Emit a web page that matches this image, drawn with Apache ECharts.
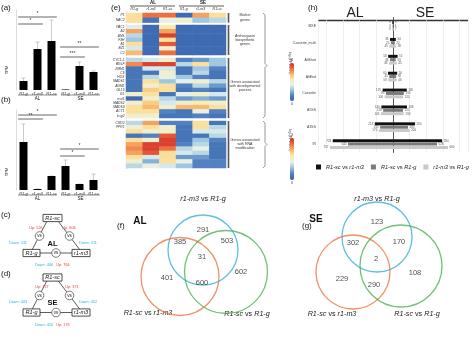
<!DOCTYPE html>
<html><head><meta charset="utf-8">
<script src="https://cdn.jsdelivr.net/npm/echarts@6/dist/echarts.min.js"></script>
<style>html,body{margin:0;padding:0;background:#fff}#c{width:474px;height:340px}</style>
</head><body><div id="c"></div>
<script>
// ---------- data ----------
const barCats = ['R1-g','r1-m3','R1-sc','R1-g','r1-m3','R1-sc'];
const tpmA = [9, 41, 49, 0.5, 24, 18];
const errA = [12, 48, 70, 0.5, 28, 19];
const sigA = [[0,2,73,'*'],[0,1,66,'*'],[3,5,43,'**'],[3,4,33,'***']];
const tpmB = [48, 1, 14, 24, 6, 10];
const errB = [66, 1, 14, 30, 6, 16];
const sigB = [[0,2,75,'*'],[0,1,71,'**'],[3,5,41,'*'],[3,4,34,'*']];

const heatCols = ['R1-g','r1-m3','R1-sc','R1-g ','r1-m3 ','R1-sc '];
const rowsMarker = ['P1','NAC2'];
const heatMarker = [
 [0.6,0.85,0.85,0.05,0.75,0.6],
 [0.6,0.1,0.45,0.5,0.3,0.35]];
const rowsAntho = ['PAC1','A2','ANS','F3H','A1','BZ1','C2'];
const heatAntho = [
 [0.42,0.05,0.55,0.05,0.05,0.05],
 [0.75,0.05,0.75,0.05,0.05,0.05],
 [0.35,0.05,0.95,0.05,0.05,0.05],
 [0.3,0.05,0.6,0.05,0.05,0.05],
 [0.6,0.05,0.9,0.05,0.05,0.05],
 [0.4,0.05,0.5,0.05,0.05,0.05],
 [0.7,0.05,0.85,0.05,0.05,0.05]];
const rowsDev = ['CYC1-1','BGLF','ZMM1','C6','HOX','MADS1','AGM1','GL15','G1','nsd1','MADS2','MADS3','ACT1','bsg2'];
const heatDev = [
 [0.35,0.4,0.5,0.15,0.2,0.3],
 [0.8,0.95,0.95,0.35,0.6,0.3],
 [0.1,0.4,0.4,0.1,0.3,0.15],
 [0.1,0.1,0.5,0.1,0.35,0.1],
 [0.1,0.35,0.45,0.3,0.15,0.1],
 [0.1,0.6,0.3,0.45,0.5,0.35],
 [0.1,0.5,0.6,0.15,0.35,0.2],
 [0.1,0.65,0.6,0.1,0.15,0.1],
 [0.5,0.6,0.1,0.45,0.5,0.4],
 [0.05,0.5,0.35,0.2,0.25,0.2],
 [0.5,0.65,0.4,0.5,0.55,0.5],
 [0.6,0.7,0.5,0.7,0.7,0.6],
 [0.6,0.6,0.15,0.1,0.45,0.15],
 [0.5,0.5,0.1,0.1,0.15,0.1]];
const rowsRNA = ['CRD2','PPR1','','','','','','','','',''];
const heatRNA = [
 [0.35,0.75,0.15,0.15,0.6,0.1],
 [0.5,0.6,0.5,0.1,0.6,0.35],
 [0.6,0.5,0.5,0.1,0.4,0.4],
 [0.1,0.15,0.9,0.1,0.1,0.35],
 [0.6,0.5,0.95,0.1,0.3,0.15],
 [0.75,0.95,0.95,0.15,0.35,0.1],
 [0.8,0.95,0.85,0.35,0.45,0.1],
 [0.75,0.9,0.6,0.4,0.35,0.1],
 [0.6,0.4,0.6,0.2,0.2,0.1],
 [0.5,0.25,0.6,0.45,0.15,0.15],
 [0.35,0.45,0.4,0.3,0.15,0.15]];

const asCats = ['MXE','Cassette_multi','AltStart','AltEnd','Cassette','A5SS','A3SS','IR'];
const cmpNames = ['R1-sc vs r1-m3','R1-sc vs R1-g','r1-m3 vs R1-g'];
const asAL = [
 [8,36,58,60,125,140,218,723],
 [5,25,36,45,85,118,155,540],
 [9,45,48,58,100,145,170,757]];
const asSE = [
 [6,34,55,50,165,168,265,590],
 [4,22,33,38,130,120,180,528],
 [7,38,45,46,120,130,200,660]];

const vennAL = [291,385,503,31,401,600,602];
const vennSE = [123,302,170,2,229,290,108];
const vennSets = ['r1-m3 vs R1-g','R1-sc vs r1-m3','R1-sc vs R1-g'];

// ---------- layout ----------
const FONT = 'Liberation Sans';
const chart = echarts.init(document.getElementById('c'));
function ital(s){ return s.replace(/(R1-sc|r1-m3|R1-g)/g, '{i|$1}'); }

function errRender(errs){
  return function(params, api){
    const x = api.value(0), lo = api.value(1), hi = errs[params.dataIndex];
    const p1 = api.coord([x, lo]), p2 = api.coord([x, hi]);
    return {type:'group', children:[
      {type:'line', shape:{x1:p1[0],y1:p1[1],x2:p2[0],y2:p2[1]}, style:{stroke:'#aaa',lineWidth:0.6}},
      {type:'line', shape:{x1:p2[0]-2,y1:p2[1],x2:p2[0]+2,y2:p2[1]}, style:{stroke:'#aaa',lineWidth:0.6}}]};
  };
}
function sigRender(sigs){
  return function(params, api){
    const s = sigs[params.dataIndex];
    const half = api.size([1,0])[0]*0.38;
    const a = api.coord([s[0], s[2]]), b = api.coord([s[1], s[2]]);
    return {type:'group', children:[
      {type:'line', shape:{x1:a[0]-half,y1:a[1],x2:b[0]+half,y2:b[1]}, style:{stroke:'#555',lineWidth:0.9}},
      {type:'text', style:{text:s[3], x:(a[0]+b[0])/2, y:a[1]-0.5, align:'center', verticalAlign:'bottom', fontSize:5, fill:'#333', fontFamily:FONT}}]};
  };
}

const gridBase = {outerBoundsMode:'none', containLabel:false};
const grids = [
  {left:16.5, top:10, width:84, height:80},
  {left:16.5, top:110, width:84, height:80},
  {left:126, top:13, width:100, height:9.6},
  {left:126, top:25, width:100, height:30},
  {left:126, top:58, width:100, height:60},
  {left:126, top:121, width:100, height:47},
  {left:318, top:17.5, width:75, height:135},
  {left:393, top:17.5, width:75, height:135},
  {left:120, top:190, width:150, height:140},
  {left:300, top:190, width:150, height:140}
].map(o=>Object.assign({}, gridBase, o));
const catX = (g)=>({gridIndex:g, type:'category', data:barCats, axisLine:{show:false}, axisTick:{show:false},
  axisLabel:{fontSize:4, fontStyle:'italic', color:'#333', margin:2, interval:0, fontFamily:FONT}});
const valY = (g)=>({gridIndex:g, type:'value', min:0, max:80, splitLine:{show:false}, axisLabel:{show:false},
  axisLine:{show:true, lineStyle:{color:'#bbb', width:0.5}}, axisTick:{show:false}});
const heatX = (g, top)=>({gridIndex:g, type:'category', data:heatCols, position:'top', show:top,
  axisLine:{show:false}, axisTick:{show:false},
  axisLabel:{fontSize:3.5, fontStyle:'italic', margin:1.5, interval:0, color:'#333', fontFamily:FONT}});
const heatY = (g, rows)=>({gridIndex:g, type:'category', data:rows, inverse:true,
  axisLine:{show:true, lineStyle:{color:'#666', width:0.8}}, axisTick:{show:false},
  axisLabel:{fontSize:3.3, fontStyle:'italic', margin:1.5, interval:0, color:'#333', fontFamily:FONT}});
const vennX = (g)=>({gridIndex:g, type:'value', min:0, max:150, show:false});
const vennY = (g)=>({gridIndex:g, type:'value', min:0, max:140, inverse:true, show:false});

const xAxis = [catX(0), catX(1), heatX(2,true), heatX(3,false), heatX(4,false), heatX(5,false),
  {gridIndex:6, type:'value', min:0, max:900, interval:200, inverse:true, axisLabel:{show:false}, axisLine:{show:false}, axisTick:{show:false}, splitLine:{lineStyle:{color:'#e3e3e3', width:0.6}}},
  {gridIndex:7, type:'value', min:0, max:900, interval:200, axisLabel:{show:false}, axisLine:{show:false}, axisTick:{show:false}, splitLine:{lineStyle:{color:'#e3e3e3', width:0.6}}},
  vennX(8), vennX(9)];
const yAxis = [valY(0), valY(1), heatY(2, rowsMarker), heatY(3, rowsAntho), heatY(4, rowsDev), heatY(5, rowsRNA),
  {gridIndex:6, type:'category', data:asCats, inverse:true, axisLine:{show:false}, axisTick:{show:false},
   axisLabel:{fontSize:3.5, color:'#444', margin:2, interval:0, fontFamily:FONT}},
  {gridIndex:7, type:'category', data:asCats, inverse:true, axisLine:{show:true, lineStyle:{color:'#333', width:0.8}}, axisTick:{show:false}, axisLabel:{show:false}},
  vennY(8), vennY(9)];

const series = [];
series.push({type:'bar', xAxisIndex:0, yAxisIndex:0, data:tpmA, barWidth:8, itemStyle:{color:'#000'}, z:3});
series.push({type:'custom', xAxisIndex:0, yAxisIndex:0, data:tpmA.map((v,i)=>[i,v]), renderItem:errRender(errA), z:2});
series.push({type:'custom', xAxisIndex:0, yAxisIndex:0, data:sigA.map(s=>[s[0],s[2]]), renderItem:sigRender(sigA), z:4});
series.push({type:'bar', xAxisIndex:1, yAxisIndex:1, data:tpmB, barWidth:8, itemStyle:{color:'#000'}, z:3});
series.push({type:'custom', xAxisIndex:1, yAxisIndex:1, data:tpmB.map((v,i)=>[i,v]), renderItem:errRender(errB), z:2});
series.push({type:'custom', xAxisIndex:1, yAxisIndex:1, data:sigB.map(s=>[s[0],s[2]]), renderItem:sigRender(sigB), z:4});
[heatMarker, heatAntho, heatDev, heatRNA].forEach((m, k)=>{
  const d = [];
  m.forEach((row, r)=>row.forEach((v, c)=>d.push([c, r, v])));
  series.push({type:'heatmap', xAxisIndex:2+k, yAxisIndex:2+k, data:d, itemStyle:{borderWidth:0}, emphasis:{disabled:true}});
});
const hColors = ['#111','#7a7a7a','#c9c9c9'];
cmpNames.forEach((n, k)=>{
  series.push({type:'bar', name:n, xAxisIndex:6, yAxisIndex:6, data:asAL[k], barWidth:3, barGap:'12%', itemStyle:{color:hColors[k]},
    label:{show:true, position:'left', distance:1.5, fontSize:3, color:'#555', fontFamily:FONT}});
  series.push({type:'bar', name:n, xAxisIndex:7, yAxisIndex:7, data:asSE[k], barWidth:3, barGap:'12%', itemStyle:{color:hColors[k]},
    label:{show:true, position:'right', distance:1.5, fontSize:3, color:'#555', fontFamily:FONT}});
});
const vennLayouts = [
  {circles:[[83,60,35],[60,86.5,39],[106,82,41.5]], spots:[[83,40],[60,52],[107,51],[82,67],[47,88],[82,93],[121,82]]},
  {circles:[[77,47,35],[53,82,37],[101,76,41]], spots:[[77,32],[53,53],[99,52],[76,69],[42,89],[74,95],[115,83]]}];
const vennCol = ['#3aaee0','#ee7440','#4db151'];
[vennAL, vennSE].forEach((vals, k)=>{
  const L = vennLayouts[k];
  series.push({type:'scatter', xAxisIndex:8+k, yAxisIndex:8+k, silent:true,
    data:L.circles.map((c,i)=>({value:[c[0],c[1]], symbolSize:c[2]*2, itemStyle:{color:'rgba(0,0,0,0)', borderColor:vennCol[i], borderWidth:1.3}}))});
  series.push({type:'scatter', xAxisIndex:8+k, yAxisIndex:8+k, silent:true, symbolSize:0,
    data:vals.map((v,i)=>[L.spots[i][0], L.spots[i][1], v]),
    label:{show:true, position:'inside', formatter:p=>String(p.value[2]), fontSize:7.5, color:'#222', fontFamily:FONT}});
});

const g = [];
function txt(x,y,text,o){ g.push({type:'text', x, y, style:Object.assign({text, fontFamily:FONT, fontSize:8, fill:'#111', align:'left', verticalAlign:'middle', rich:{i:{fontStyle:'italic', fontFamily:FONT, fontSize:(o&&o.fontSize)||8, fill:(o&&o.fill)||'#111'}}}, o||{})}); }
function line(x1,y1,x2,y2,c,w){ g.push({type:'line', shape:{x1,y1,x2,y2}, style:{stroke:c||'#333', lineWidth:w||0.8}}); }
txt(1,8,'(a)',{fontSize:8}); txt(1,100,'(b)',{fontSize:8}); txt(1,215,'(c)',{fontSize:8}); txt(1,274,'(d)',{fontSize:8});
txt(111,8,'(e)',{fontSize:8}); txt(117,226,'(f)',{fontSize:8}); txt(302,226,'(g)',{fontSize:8}); txt(308,8,'(h)',{fontSize:8});
[[70,0],[172,100]].forEach(([ty,oy])=>{
  g.push({type:'text', x:7, y:ty, rotation:Math.PI/2, style:{text:'TPM', fontSize:4, fill:'#333', fontFamily:FONT, align:'center', verticalAlign:'middle'}});
  line(18,oy+95,57,oy+95,'#444',0.6); line(61,oy+95,100,oy+95,'#444',0.6);
  txt(37.5,oy+99,'AL',{fontSize:4.5, align:'center'}); txt(80.5,oy+99,'SE',{fontSize:4.5, align:'center'});
});
function tri(oy, title, upL, upR, dnL, dnR, dnB, upB, upX){
  const box=(cx,cy,w,t)=>{ g.push({type:'rect', shape:{x:cx-w/2,y:cy-3.6,width:w,height:7.2}, style:{fill:'#fff', stroke:'#222', lineWidth:0.8}, z:5});
    g.push({type:'text', x:cx, y:cy, z:6, style:{text:t, fontStyle:'italic', fontSize:5.5, fontFamily:FONT, fill:'#111', align:'center', verticalAlign:'middle'}}); };
  const vs=(cx,cy)=>{ g.push({type:'circle', shape:{cx,cy,r:4.3}, style:{fill:'#fff', stroke:'#444', lineWidth:0.7}, z:5});
    g.push({type:'text', x:cx, y:cy, z:6, style:{text:'vs', fontSize:4.5, fontFamily:FONT, fill:'#222', align:'center', verticalAlign:'middle'}}); };
  line(47,oy+3,32,oy+32,'#333',0.8); line(58,oy+3,80,oy+32,'#333',0.8); line(40,oy+35,72,oy+35,'#333',0.8);
  box(52.5,oy,19,'R1-sc'); box(31.5,oy+35,17,'R1-g'); box(81,oy+35,18,'r1-m3');
  vs(39.5,oy+18); vs(69.5,oy+18); vs(56,oy+35);
  txt(52.5,oy+25.5,title,{fontSize:7.5, fontWeight:'bold', align:'center'});
  const red='#e8403f', cy='#29b2e6';
  txt(upX[0],oy+9.5,'Up: '+upL,{fontSize:3.8, fill:red, align:'center'});
  txt(upX[1],oy+9.5,'Up: '+upR,{fontSize:3.8, fill:red, align:'center'});
  txt(18,oy+24.5,'Down: '+dnL,{fontSize:3.8, fill:cy, align:'center'});
  txt(88,oy+24.5,'Down: '+dnR,{fontSize:3.8, fill:cy, align:'center'});
  txt(44,oy+47,'Down: '+dnB,{fontSize:3.8, fill:cy, align:'center'});
  txt(63,oy+47,'Up: '+upB,{fontSize:3.8, fill:red, align:'center'});
}
tri(218,'AL',526,606,511,511,446,764,[36,69]);
tri(277.5,'SE',127,371,443,452,420,176,[42,72]);
txt(153,3,'AL',{fontSize:4.5, fontWeight:'bold', align:'center'}); txt(203,3,'SE',{fontSize:4.5, fontWeight:'bold', align:'center'});
line(130,6,175,6,'#333',0.8); line(179,6,224,6,'#333',0.8);
[[13,22.6],[25,55],[58,118],[121,168]].forEach(([a,b])=>line(228.5,a,228.5,b,'#555',1.6));
const sideLbl = [[17.5,'Marker\ngenes'],[40,'Anthocyanin\nbiosynthetic\ngenes'],[86,'Genes associated\nwith developmental\nprocess'],[144,'Genes associated\nwith RNA\nmodification']];
sideLbl.forEach(([y,t])=>txt(245,y,t,{fontSize:3.6, align:'center', fill:'#333', lineHeight:4.3}));
function brace(x, y1, y2){
  const m=(y1+y2)/2;
  g.push({type:'polyline', shape:{points:[[x,y1],[x+2,y1+2],[x+2,m-2],[x+4,m],[x+2,m+2],[x+2,y2-2],[x,y2]]}, style:{stroke:'#555', lineWidth:0.6, fill:null}});
}
brace(263,13,118); brace(263,121,168);
g.push({type:'text', x:290, y:63, rotation:-Math.PI/2, style:{text:'log₂(FPKM+1)', fontSize:3.6, fill:'#333', fontFamily:FONT, align:'center', verticalAlign:'middle'}});
g.push({type:'text', x:290, y:140, rotation:-Math.PI/2, style:{text:'log₂(FPKM+1)', fontSize:3.6, fill:'#333', fontFamily:FONT, align:'center', verticalAlign:'middle'}});
txt(355,13,'AL',{fontSize:14, align:'center', fill:'#222'}); txt(425,13,'SE',{fontSize:14, align:'center', fill:'#222'});
line(318,20.5,468,20.5,'#333',1.4);
function vennTitles(ox, t, pos){
  txt(ox+pos[3][0], 190+pos[3][1], t, {fontSize:10, fontWeight:'bold', align:'center'});
  vennSets.forEach((s,i)=>txt(ox+pos[i][0], 190+pos[i][1], ital(s), {fontSize:7.2, align:'center', fill:'#222'}));
}
vennTitles(120,'AL',[[83,9],[28,123],[127,124],[20,31]]);
vennTitles(300,'SE',[[77,9],[32,124],[117,124],[16,29]]);

const heatColors = ['#3560aa','#4f7fbe','#98c2df','#e4f1ee','#fcebaa','#f9b46a','#ed6b3e','#cf2b27'];
chart.setOption({
  animation:false,
  textStyle:{fontFamily:FONT},
  grid:grids, xAxis, yAxis, series, graphic:g,
  visualMap:[
    {type:'continuous', min:0, max:1, seriesIndex:[6,7,8], inRange:{color:heatColors}, left:275, top:43, itemWidth:4, itemHeight:38, text:['4','0'], textGap:1, textStyle:{fontSize:3.5, color:'#333'}, calculable:false, hoverLink:false},
    {type:'continuous', min:0, max:1, seriesIndex:[9], inRange:{color:heatColors}, left:275, top:118, itemWidth:4, itemHeight:42, text:['3','0'], textGap:1, textStyle:{fontSize:3.5, color:'#333'}, calculable:false, hoverLink:false}],
  legend:{left:311, top:159, width:165, itemWidth:5, itemHeight:5, itemGap:7, icon:'rect', data:cmpNames,
    formatter:n=>ital(n), textStyle:{fontSize:5.6, color:'#222', fontFamily:FONT, rich:{i:{fontStyle:'italic', fontSize:5.6, fontFamily:FONT}}}}
});
</script></body></html>
